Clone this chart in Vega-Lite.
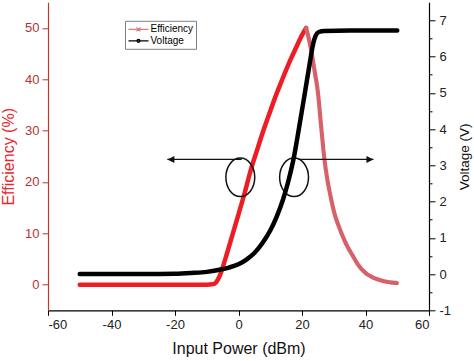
{
  "$schema": "https://vega.github.io/schema/vega-lite/v6.json",
  "width": 381,
  "height": 308,
  "autosize": "none",
  "padding": {"left": 48, "top": 2.3, "right": 45, "bottom": 50.7},
  "background": "white",
  "config": {
    "view": {"stroke": null},
    "font": "Liberation Sans",
    "axis": {"grid": false, "labelFont": "Liberation Sans", "titleFont": "Liberation Sans", "titleFontWeight": "normal"}
  },
  "datasets": {
    "curves": [
      {"series": "Efficiency", "x": -50, "y": 0},
      {"series": "Efficiency", "x": -40, "y": 0},
      {"series": "Efficiency", "x": -30, "y": 0},
      {"series": "Efficiency", "x": -20, "y": 0},
      {"series": "Efficiency", "x": -10, "y": 0},
      {"series": "Efficiency", "x": -8, "y": 0.1},
      {"series": "Efficiency", "x": -7, "y": 0.5},
      {"series": "Efficiency", "x": -6, "y": 1.6},
      {"series": "Efficiency", "x": -5, "y": 3.3},
      {"series": "Efficiency", "x": -4, "y": 5.3},
      {"series": "Efficiency", "x": -2, "y": 9.5},
      {"series": "Efficiency", "x": 0, "y": 13.7},
      {"series": "Efficiency", "x": 2, "y": 18.0},
      {"series": "Efficiency", "x": 4, "y": 22.6},
      {"series": "Efficiency", "x": 6, "y": 26.5},
      {"series": "Efficiency", "x": 8, "y": 30.3},
      {"series": "Efficiency", "x": 10, "y": 33.8},
      {"series": "Efficiency", "x": 12, "y": 37.2},
      {"series": "Efficiency", "x": 14, "y": 40.3},
      {"series": "Efficiency", "x": 16, "y": 43.3},
      {"series": "Efficiency", "x": 18, "y": 46.0},
      {"series": "Efficiency", "x": 20, "y": 48.6},
      {"series": "Efficiency", "x": 21.3, "y": 50.0},
      {"series": "Efficiency", "x": 22, "y": 48.3},
      {"series": "Efficiency", "x": 23, "y": 45.3},
      {"series": "Efficiency", "x": 24, "y": 41.5},
      {"series": "Efficiency", "x": 25, "y": 37.5},
      {"series": "Efficiency", "x": 26, "y": 31.0},
      {"series": "Efficiency", "x": 27, "y": 24.8},
      {"series": "Efficiency", "x": 28, "y": 20.4},
      {"series": "Efficiency", "x": 29, "y": 17.2},
      {"series": "Efficiency", "x": 30, "y": 14.4},
      {"series": "Efficiency", "x": 32, "y": 10.7},
      {"series": "Efficiency", "x": 34, "y": 7.8},
      {"series": "Efficiency", "x": 36, "y": 5.6},
      {"series": "Efficiency", "x": 38, "y": 3.6},
      {"series": "Efficiency", "x": 40, "y": 2.3},
      {"series": "Efficiency", "x": 42, "y": 1.5},
      {"series": "Efficiency", "x": 45, "y": 0.8},
      {"series": "Efficiency", "x": 50, "y": 0.3},
      {"series": "Voltage", "x": -50, "y": 0},
      {"series": "Voltage", "x": -40, "y": 0},
      {"series": "Voltage", "x": -30, "y": 0},
      {"series": "Voltage", "x": -20, "y": 0.01},
      {"series": "Voltage", "x": -15, "y": 0.03},
      {"series": "Voltage", "x": -10, "y": 0.06},
      {"series": "Voltage", "x": -6, "y": 0.12},
      {"series": "Voltage", "x": -3, "y": 0.18},
      {"series": "Voltage", "x": 0, "y": 0.27},
      {"series": "Voltage", "x": 2.5, "y": 0.4},
      {"series": "Voltage", "x": 5, "y": 0.58},
      {"series": "Voltage", "x": 7.5, "y": 0.85},
      {"series": "Voltage", "x": 10, "y": 1.2},
      {"series": "Voltage", "x": 12, "y": 1.58},
      {"series": "Voltage", "x": 14, "y": 2.05},
      {"series": "Voltage", "x": 15.5, "y": 2.5},
      {"series": "Voltage", "x": 17.3, "y": 3.16},
      {"series": "Voltage", "x": 19, "y": 4.0},
      {"series": "Voltage", "x": 21, "y": 5.05},
      {"series": "Voltage", "x": 22.5, "y": 5.85},
      {"series": "Voltage", "x": 23.5, "y": 6.35},
      {"series": "Voltage", "x": 24.3, "y": 6.58},
      {"series": "Voltage", "x": 25.3, "y": 6.68},
      {"series": "Voltage", "x": 27, "y": 6.71},
      {"series": "Voltage", "x": 35, "y": 6.72},
      {"series": "Voltage", "x": 50, "y": 6.72}
    ],
    "arrows": [
      {"x": -22.4, "x2": 1.0, "y": 24.4, "dir": "left"},
      {"x": 18.8, "x2": 42.5, "y": 24.4, "dir": "right"}
    ],
    "ellipses": [
      {"x": 0.57, "y": 20.9},
      {"x": 17.5, "y": 20.9}
    ]
  },
  "layer": [
    {
      "layer": [
        {
          "data": {"name": "curves"},
          "transform": [{"filter": "datum.series === 'Efficiency' && datum.x <= 21.3"}],
          "mark": {"type": "line", "color": "#ee1c24", "strokeWidth": 4.5, "strokeCap": "round", "interpolate": "monotone"},
          "encoding": {
            "x": {
              "field": "x", "type": "quantitative",
              "scale": {"domain": [-60, 60], "nice": false, "zero": false},
              "axis": {
                "values": [-60, -50, -40, -30, -20, -10, 0, 10, 20, 30, 40, 50, 60],
                "labelExpr": "datum.value % 20 === 0 ? '' + datum.value : ''",
                "tickSize": {"condition": {"test": "datum.value % 20 === 0", "value": 5}, "value": 3},
                "domainColor": "#000000", "tickColor": "#000000", "domainWidth": 1.2,
                "labelFontSize": 13, "labelColor": "#222222", "labelPadding": 3,
                "title": "Input Power (dBm)", "titleFontSize": 16, "titleColor": "#111111", "titlePadding": 9
              }
            },
            "y": {
              "field": "y", "type": "quantitative",
              "scale": {"domain": [-5, 55], "nice": false, "zero": false},
              "axis": {
                "orient": "left",
                "values": [0, 5, 10, 15, 20, 25, 30, 35, 40, 45, 50],
                "labelExpr": "datum.value % 10 === 0 ? '' + datum.value : ''",
                "tickSize": {"condition": {"test": "datum.value % 10 === 0", "value": 6}, "value": 3},
                "domainColor": "#c0392b", "tickColor": "#c0392b", "domainWidth": 1.2,
                "labelFontSize": 13, "labelColor": "#b5332e", "labelPadding": 3,
                "title": "Efficiency (%)", "titleFontSize": 16, "titleColor": "#e8262b", "titlePadding": 8
              }
            }
          }
        },
        {
          "data": {"name": "curves"},
          "transform": [{"filter": "datum.series === 'Efficiency' && datum.x >= 21.3"}],
          "mark": {"type": "line", "color": "#d8606b", "strokeWidth": 4.2, "strokeCap": "round", "interpolate": "monotone", "strokeDash": [1.5, 1]},
          "encoding": {
            "x": {"field": "x", "type": "quantitative", "scale": {"domain": [-60, 60], "nice": false, "zero": false}},
            "y": {"field": "y", "type": "quantitative", "scale": {"domain": [-5, 55], "nice": false, "zero": false}}
          }
        },
        {
          "data": {"name": "curves"},
          "mark": {"type": "point", "opacity": 0, "filled": false},
          "encoding": {
            "x": {"field": "x", "type": "quantitative", "scale": {"domain": [-60, 60], "nice": false, "zero": false}},
            "y": {"field": "y", "type": "quantitative", "scale": {"domain": [-5, 55], "nice": false, "zero": false}},
            "color": {
              "field": "series", "type": "nominal",
              "scale": {"domain": ["Efficiency", "Voltage"], "range": ["#d77b7b", "#000000"]},
              "legend": {
                "title": null, "orient": "none", "legendX": 77, "legendY": 18.5,
                "strokeColor": "#7f7f7f", "fillColor": "white", "padding": 2.5,
                "labelFont": "Liberation Sans", "labelFontSize": 10, "labelColor": "#000000",
                "symbolSize": 100, "symbolStrokeWidth": 1.2, "labelOffset": 11, "rowPadding": 0.5, "symbolOpacity": 1
              }
            },
            "shape": {
              "field": "series", "type": "nominal",
              "scale": {"domain": ["Efficiency", "Voltage"], "range": ["M-1,0H3M0.6,-0.4L1.4,0.4M0.6,0.4L1.4,-0.4", "M-1,0H3M0.7,0A0.3,0.3 0 1,0 1.3,0A0.3,0.3 0 1,0 0.7,0"]},
              "legend": {
                "title": null, "orient": "none", "legendX": 77, "legendY": 18.5,
                "strokeColor": "#7f7f7f", "fillColor": "white", "padding": 2.5,
                "labelFont": "Liberation Sans", "labelFontSize": 10, "labelColor": "#000000",
                "symbolSize": 100, "symbolStrokeWidth": 1.2, "labelOffset": 11, "rowPadding": 0.5, "symbolOpacity": 1
              }
            }
          }
        },
        {
          "data": {"name": "arrows"},
          "mark": {"type": "rule", "color": "#111111", "strokeWidth": 1.3},
          "encoding": {
            "x": {"field": "x", "type": "quantitative", "scale": {"domain": [-60, 60], "nice": false, "zero": false}},
            "x2": {"field": "x2"},
            "y": {"field": "y", "type": "quantitative", "scale": {"domain": [-5, 55], "nice": false, "zero": false}}
          }
        },
        {
          "data": {"name": "arrows"},
          "transform": [{"filter": "datum.dir === 'left'"}],
          "mark": {"type": "point", "shape": "M0,0L1,-0.5L1,0.5Z", "size": 196, "filled": true, "color": "#111111", "opacity": 1},
          "encoding": {
            "x": {"field": "x", "type": "quantitative", "scale": {"domain": [-60, 60], "nice": false, "zero": false}},
            "y": {"field": "y", "type": "quantitative", "scale": {"domain": [-5, 55], "nice": false, "zero": false}}
          }
        },
        {
          "data": {"name": "arrows"},
          "transform": [{"filter": "datum.dir === 'right'"}],
          "mark": {"type": "point", "shape": "M0,0L-1,-0.5L-1,0.5Z", "size": 196, "filled": true, "color": "#111111", "opacity": 1},
          "encoding": {
            "x": {"field": "x2", "type": "quantitative", "scale": {"domain": [-60, 60], "nice": false, "zero": false}},
            "y": {"field": "y", "type": "quantitative", "scale": {"domain": [-5, 55], "nice": false, "zero": false}}
          }
        },
        {
          "data": {"name": "ellipses"},
          "mark": {"type": "point", "shape": "M0,-1A0.75,1 0 1,1 0,1A0.75,1 0 1,1 0,-1Z", "size": 1482, "filled": false, "color": "#111111", "strokeWidth": 1.5, "opacity": 1},
          "encoding": {
            "x": {"field": "x", "type": "quantitative", "scale": {"domain": [-60, 60], "nice": false, "zero": false}},
            "y": {"field": "y", "type": "quantitative", "scale": {"domain": [-5, 55], "nice": false, "zero": false}}
          }
        }
      ]
    },
    {
      "data": {"name": "curves"},
      "transform": [{"filter": "datum.series === 'Voltage'"}],
      "mark": {"type": "line", "color": "#000000", "strokeWidth": 4.5, "strokeCap": "round", "interpolate": "monotone"},
      "encoding": {
        "x": {"field": "x", "type": "quantitative", "scale": {"domain": [-60, 60], "nice": false, "zero": false}},
        "y": {
          "field": "y", "type": "quantitative",
          "scale": {"domain": [-1, 7.5], "nice": false, "zero": false},
          "axis": {
            "orient": "right",
            "values": [-1, -0.5, 0, 0.5, 1, 1.5, 2, 2.5, 3, 3.5, 4, 4.5, 5, 5.5, 6, 6.5, 7],
            "labelExpr": "datum.value % 1 === 0 ? '' + datum.value : ''",
            "tickSize": {"condition": {"test": "datum.value % 1 === 0", "value": 6}, "value": 3},
            "domainColor": "#000000", "tickColor": "#000000", "domainWidth": 1.2,
            "labelFontSize": 13, "labelColor": "#222222", "labelPadding": 4,
            "title": "Voltage (V)", "titleFontSize": 13.5, "titleColor": "#111111", "titleAngle": 270, "titleBaseline": "top", "titlePadding": 7
          }
        }
      }
    }
  ],
  "resolve": {"scale": {"y": "independent"}}
}
